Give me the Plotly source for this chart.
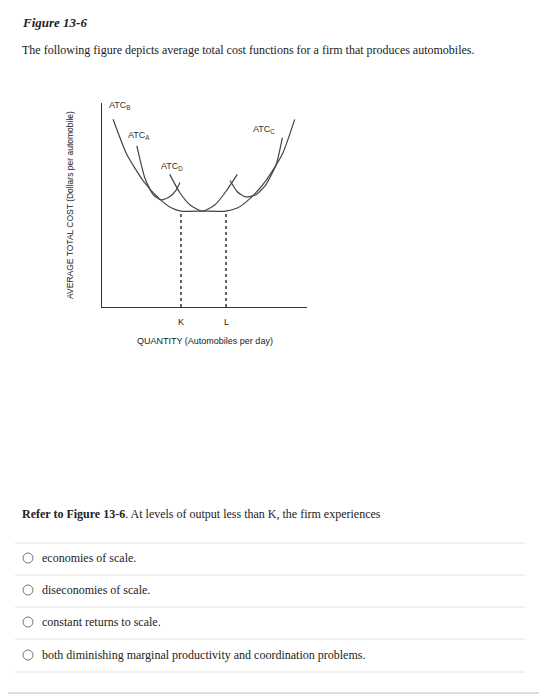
import plotly.graph_objects as go

# curve samples (x: quantity 0-100, y: cost 0-100)
lr_x = [5.4, 12, 20, 28, 34, 38.5, 49, 60.5, 66, 72, 80, 88, 94]
lr_y = [92, 75, 62, 53, 48.5, 47, 47, 47, 48.5, 53, 62, 75, 92]
a_x = [17, 21, 25, 29, 33, 36, 38]
a_y = [79, 63, 55, 52.5, 54, 57, 61]
d_x = [33, 38, 43, 49, 55, 60, 66]
d_y = [65, 56, 50, 47, 50, 56, 65]
c_x = [62.5, 66, 70, 75, 80, 85, 88]
c_y = [62, 56.5, 54, 55, 60, 70, 83]
k_x, l_x, flat_y = 38.5, 60.5, 47
curve_labels = [("ATC<sub>B</sub>", 9, 99), ("ATC<sub>A</sub>", 18, 84),
                ("ATC<sub>D</sub>", 34, 69), ("ATC<sub>C</sub>", 79, 87)]
options = ["economies of scale.", "diseconomies of scale.",
           "constant returns to scale.",
           "both diminishing marginal productivity and coordination problems."]

W, H = 547, 700
O = 8  # page body margin offset
fig = go.Figure()
line = dict(color="#444", width=1.2, shape="spline", smoothing=0.6)
for xs, ys in [(lr_x, lr_y), (a_x, a_y), (d_x, d_y), (c_x, c_y)]:
    fig.add_trace(go.Scatter(x=xs, y=ys, mode="lines", line=line, hoverinfo="skip"))
for xv in [k_x, l_x]:
    fig.add_trace(go.Scatter(x=[xv, xv], y=[0, flat_y], mode="lines",
                             line=dict(color="#333", width=1.5, dash="dot"), hoverinfo="skip"))

ann = []
for t, x, y in curve_labels:
    ann.append(dict(x=x, y=y, xref="x", yref="y", text=t, showarrow=False,
                    font=dict(family="Liberation Sans", size=9, color="#333")))

def px(x, y, text, size, family="Liberation Serif", xanchor="left", **kw):
    return dict(x=(x - O) / W, y=1 - (y - O) / H, xref="paper", yref="paper", text=text,
                showarrow=False, xanchor=xanchor, yanchor="middle",
                font=dict(family=family, size=size, color="#222"), **kw)

x0p, x1p = 102, 307
def qx(v):
    return x0p + (x1p - x0p) * v / 100
for t, xv in [("K", k_x), ("L", l_x)]:
    ann.append(px(qx(xv), 322, t, 9, family="Liberation Sans", xanchor="center"))
ann.append(px(205, 341, "QUANTITY (Automobiles per day)", 9, family="Liberation Sans", xanchor="center"))
ann.append(px(70, 205, "AVERAGE TOTAL COST (Dollars per automobile)", 8.5,
              family="Liberation Sans", xanchor="center", textangle=-90))
ann.append(px(20, 22, "<b><i>Figure 13-6</i></b>", 13))
ann.append(px(20, 50, "The following figure depicts average total cost functions for a firm that produces automobiles.", 12))
ann.append(px(20, 514, "<b>Refer to Figure 13-6</b>. At levels of output less than K, the firm experiences", 12))

shapes = []
def py(y):
    return 1 - (y - O) / H
def pxx(x):
    return (x - O) / W
opt_y = [558, 590, 622, 655]
for t, y in zip(options, opt_y):
    ann.append(px(40, y, t, 12))
    shapes.append(dict(type="circle", xref="paper", yref="paper",
                       x0=pxx(23), x1=pxx(33), y0=py(y + 5), y1=py(y - 5),
                       line=dict(color="#777", width=1)))
for y in [543, 575, 607, 639, 672]:
    shapes.append(dict(type="line", xref="paper", yref="paper", x0=pxx(15), x1=pxx(525),
                       y0=py(y), y1=py(y), line=dict(color="#e2e2e2", width=1)))
shapes.append(dict(type="line", xref="paper", yref="paper", x0=0, x1=1,
                   y0=py(693), y1=py(693), line=dict(color="#bbb", width=1)))

ax = dict(showgrid=False, zeroline=False, showticklabels=False, ticks="",
          showline=True, linecolor="#333", linewidth=1, range=[0, 100])
fig.update_layout(width=W, height=H, margin=dict(l=0, r=0, t=0, b=0),
                  paper_bgcolor="white", plot_bgcolor="white", showlegend=False,
                  xaxis=dict(ax, domain=[pxx(x0p), pxx(x1p)]),
                  yaxis=dict(ax, domain=[py(307), py(103)]),
                  annotations=ann, shapes=shapes)
fig.write_html("out.html")
